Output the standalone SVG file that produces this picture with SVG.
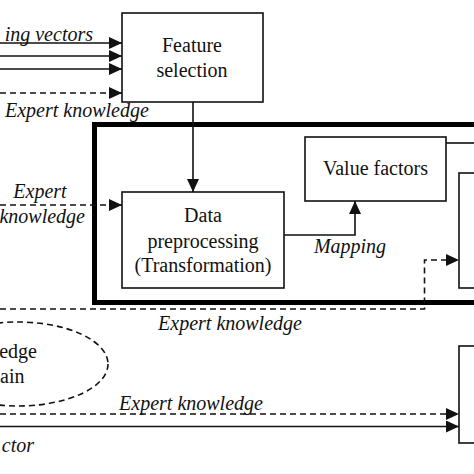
<svg xmlns="http://www.w3.org/2000/svg" width="474" height="474" viewBox="0 0 474 474">
<style>
.box{fill:#fff;stroke:#111;stroke-width:1.6}
.t{font-family:'Liberation Serif',serif;font-size:20px;fill:#111}
.i{font-family:'Liberation Serif',serif;font-size:20px;font-style:italic;fill:#111}
.ln{fill:none;stroke:#111;stroke-width:1.6}
.ds{fill:none;stroke:#111;stroke-width:1.6;stroke-dasharray:6,4}
</style>
<defs>
<marker id="ah" markerUnits="userSpaceOnUse" markerWidth="13" markerHeight="12" refX="13" refY="6" orient="auto">
<path d="M0,0 L13,6 L0,12 z" fill="#111"/>
</marker>
</defs>
<rect width="474" height="474" fill="#fff"/>
<g id="container">
<rect x="94.5" y="124.5" width="400" height="178" fill="none" stroke="#000" stroke-width="5"/>
</g>
<g id="ellipse-knowledge">
<ellipse cx="18" cy="364" rx="90" ry="42" fill="none" stroke="#111" stroke-width="1.6" stroke-dasharray="6,4"/>
<text class="t" x="37" y="358" text-anchor="end">edge</text>
<text class="t" x="0" y="383">ain</text>
</g>
<g id="feature-selection">
<rect class="box" x="122" y="13" width="141" height="89"/>
<text class="t" x="192" y="52" text-anchor="middle">Feature</text>
<text class="t" x="192" y="77" text-anchor="middle">selection</text>
</g>
<g id="data-preprocessing">
<rect class="box" x="122" y="192" width="162" height="96"/>
<text class="t" x="203" y="222" text-anchor="middle">Data</text>
<text class="t" x="203" y="248" text-anchor="middle">preprocessing</text>
<text class="t" x="203" y="272" text-anchor="middle">(Transformation)</text>
</g>
<g id="value-factors">
<rect class="box" x="305" y="137" width="141" height="64"/>
<text class="t" x="375.5" y="175" text-anchor="middle">Value factors</text>
</g>
<g id="right-box-1">
<rect class="box" x="459" y="173" width="30" height="115"/>
</g>
<g id="right-box-2">
<rect class="box" x="459" y="346" width="30" height="97"/>
</g>
<g id="connectors">
<line class="ln" x1="0" y1="43" x2="122" y2="43" marker-end="url(#ah)"/>
<line class="ln" x1="0" y1="56" x2="122" y2="56" marker-end="url(#ah)"/>
<line class="ln" x1="0" y1="69" x2="122" y2="69" marker-end="url(#ah)"/>
<line class="ds" x1="0" y1="93" x2="122" y2="93" marker-end="url(#ah)"/>
<line class="ln" x1="193" y1="102" x2="193" y2="192" marker-end="url(#ah)"/>
<line class="ds" x1="0" y1="205" x2="122" y2="205" marker-end="url(#ah)"/>
<polyline class="ln" points="284,235 355,235 355,201" marker-end="url(#ah)"/>
<line class="ln" x1="446" y1="143" x2="474" y2="143"/>
<polyline class="ds" points="0,309 424.5,309 424.5,260 459,260" marker-end="url(#ah)"/>
<line class="ds" x1="0" y1="414" x2="459" y2="414" marker-end="url(#ah)"/>
<line class="ln" x1="0" y1="426.5" x2="459" y2="426.5" marker-end="url(#ah)"/>
</g>
<g id="labels">
<text class="i" x="93" y="41" text-anchor="end">ing vectors</text>
<text class="i" x="5" y="117">Expert knowledge</text>
<text class="i" x="40" y="198" text-anchor="middle">Expert</text>
<text class="i" x="85" y="223" text-anchor="end">knowledge</text>
<text class="i" x="350" y="253" text-anchor="middle">Mapping</text>
<text class="i" x="230" y="330" text-anchor="middle">Expert knowledge</text>
<text class="i" x="191" y="410" text-anchor="middle">Expert knowledge</text>
<text class="i" x="34" y="452" text-anchor="end">ctor</text>
</g>
</svg>
